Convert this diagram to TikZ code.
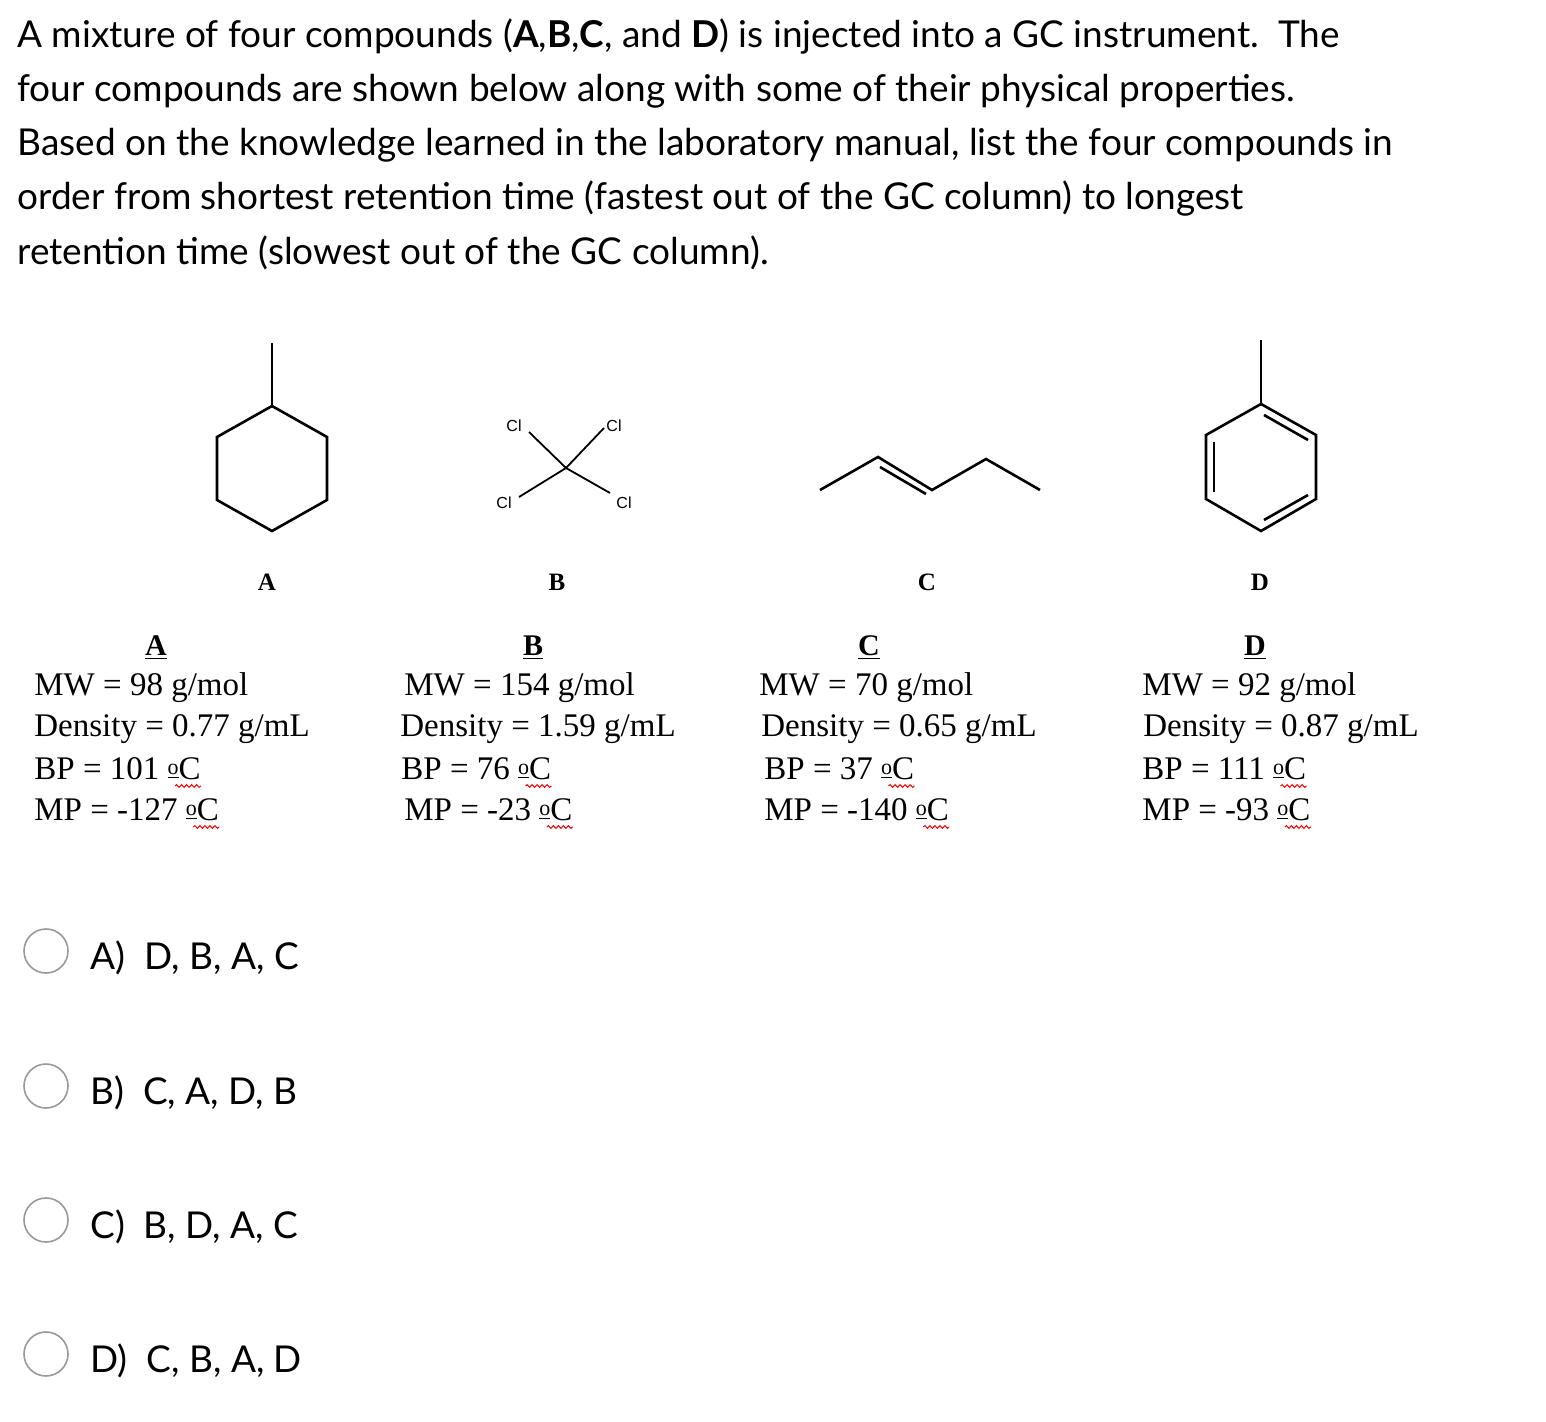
\documentclass[tikz,border=0pt]{standalone}
\usepackage{fontspec}
\setmainfont{Lato}
\newfontfamily\serifp{Liberation Serif}
\newfontfamily\clf{Liberation Sans}
\usetikzlibrary{decorations.pathmorphing}
\tikzset{
 q/.style={anchor=west,inner sep=0,font=\fontsize{18.5}{22}\selectfont},
 prop/.style={anchor=west,inner sep=0,font=\serifp\fontsize{16.5}{20}\selectfont},
 ttl/.style={inner sep=0,font=\serifp\bfseries\fontsize{15}{18}\selectfont},
 lbl/.style={inner sep=0,font=\serifp\bfseries\fontsize{12.5}{15}\selectfont},
 cl/.style={inner sep=0,font=\clf\fontsize{8}{10}\selectfont},
 bond/.style={line width=1.3pt},
 ans/.style={anchor=west,inner sep=0,font=\fontsize{18.5}{22}\selectfont},
 radio/.style={circle,draw=gray!80,line width=0.8pt,minimum size=22pt,inner sep=0},
 squig/.style={red,line width=0.5pt,decorate,decoration={snake,amplitude=0.7pt,segment length=2.5pt}}
}
\newcommand{\degc}{{\fontsize{11}{11}\selectfont\raisebox{2.5pt}{\underline{o}}}C}
\begin{document}
\begin{tikzpicture}[x=0.5pt,y=-0.5pt]
\useasboundingbox (0,0) rectangle (1546,1422);
\node[q] (l1) at (17,37) {A mixture of four compounds (\textbf{A},\textbf{B},\textbf{C}, and \textbf{D}) is injected into a GC instrument.\ \ The};
\node[q] (l2) at (17,91) {four compounds are shown below along with some of their physical properties.};
\node[q] (l3) at (17,145) {Based on the knowledge learned in the laboratory manual, list the four compounds in};
\node[q] (l4) at (17,199) {order from shortest retention time (fastest out of the GC column) to longest};
\node[q] (l5) at (17,253) {retention time (slowest out of the GC column).};
% A
\draw[bond] (272,406)--(327,437)--(327,500)--(272,531)--(217,500)--(217,437)--cycle;
\draw[bond] (272,406)--(272,343);
% B
\coordinate (bc) at (566,468);
\node[cl] (c1) at (514,426) {Cl};
\node[cl] (c2) at (614,426) {Cl};
\node[cl] (c3) at (504,503) {Cl};
\node[cl] (c4) at (624,503) {Cl};
\draw[line width=0.9pt] (529,432)--(bc)--(604,428);
\draw[line width=0.9pt] (519,497)--(bc)--(610,493);
% C
\draw[bond] (820,490)--(878,457)--(932,490)--(986,459)--(1040,490);
\draw[bond] (880,467)--(926,494);
% D
\draw[bond] (1261,404)--(1316,435)--(1316,499)--(1261,531)--(1206,499)--(1206,435)--cycle;
\draw[bond] (1261,404)--(1261,340);
\draw[bond] (1264,415)--(1308,440);
\draw[bond] (1214,442)--(1214,492);
\draw[bond] (1264,520)--(1308,495);
% labels
\node[lbl] (la) at (267,582) {A};
\node[lbl] (lb) at (557,582) {B};
\node[lbl] (lc) at (927,582) {C};
\node[lbl] (ld) at (1260,582) {D};
% props
\foreach \n/\t/\x/\xa/\xb/\xc/\xd/\mw/\de/\bp/\mp in
 {pa/A/156/34/34/34/34/98/0.77/101/-127,
  pb/B/533/404/400/401/404/154/1.59/76/-23,
  pc/C/869/759/761/764/764/70/0.65/37/-140,
  pd/D/1255/1142/1143/1142/1142/92/0.87/111/-93}{
 \node[ttl] (\n t) at (\x,648) {\underline{\t}};
 \node[prop] (\n 1) at (\xa,688) {MW = \mw\ g/mol};
 \node[prop] (\n 2) at (\xb,729) {Density = \de\ g/mL};
 \node[prop] (\n 3) at (\xc,769) {BP = \bp\ \degc};
 \node[prop] (\n 4) at (\xd,810) {MP = \mp\ \degc};
 \draw[squig] ([xshift=-13pt,yshift=-8.5pt]\n 3.east)--([yshift=-8.5pt]\n 3.east);
 \draw[squig] ([xshift=-13pt,yshift=-8.5pt]\n 4.east)--([yshift=-8.5pt]\n 4.east);
}
% answers
\node[radio] (r1) at (46,951) {};
\node[ans] (a1) at (90,958) {A)\ \ D, B, A, C};
\node[radio] (r2) at (46,1086) {};
\node[ans] (a2) at (90,1093) {B)\ \ C, A, D, B};
\node[radio] (r3) at (46,1220) {};
\node[ans] (a3) at (90,1227) {C)\ \ B, D, A, C};
\node[radio] (r4) at (46,1354) {};
\node[ans] (a4) at (90,1361) {D)\ \ C, B, A, D};
\end{tikzpicture}
\end{document}
